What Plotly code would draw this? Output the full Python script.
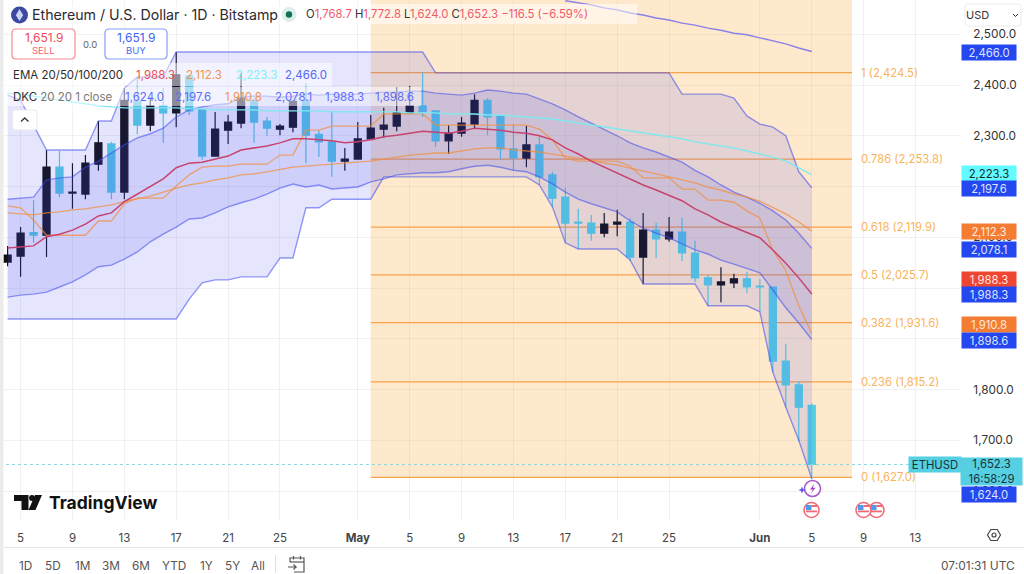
import pandas as pd
import plotly.graph_objects as go

W, H = 1024, 574
PLOT_R, PLOT_B = 960, 521

# Daily ETH/USD candles
first_day = "2025-04-04"
opens = [2051,2063,2109,2104,2238,2187,2185,2244,2284,2189,
         2368,2321,2359,2345,2418,2351,2260,2311,2325,2370,
         2329,2313,2317,2370,2303,2288,2250,2254,2294,2313,
         2319,2345,2359,2349,2290,2305,2323,2370,2339,2274,
         2256,2282,2223,2179,2130,2128,2108,2126,2130,2061,
         2114,2097,2110,2069,2020,2006,2010,2018,2004,2002,
         1856,1809,1768.7]
highs = [2083,2120,2173,2272,2270,2246,2262,2329,2288,2394,
         2416,2376,2394,2465,2420,2351,2347,2341,2424,2370,
         2337,2323,2370,2404,2311,2347,2276,2327,2341,2355,
         2396,2398,2424,2349,2321,2337,2382,2374,2339,2323,
         2319,2298,2229,2197,2156,2144,2148,2154,2138,2148,
         2128,2140,2138,2093,2026,2041,2028,2032,2018,2002,
         1890,1817,1772.8]
lows = [2043,2022,2089,2061,2179,2156,2175,2231,2175,2175,
        2303,2309,2286,2317,2341,2252,2260,2284,2315,2286,
        2300,2301,2307,2246,2258,2219,2231,2254,2294,2296,
        2309,2345,2337,2278,2264,2298,2313,2301,2254,2231,
        2238,2203,2160,2089,2077,2093,2100,2102,2053,2008,
        2059,2091,2053,2012,1965,1972,2000,1990,1953,1834,
        1765,1697,1624.0]
closes = [2065,2108,2104,2238,2187,2189,2246,2286,2189,2370,
          2321,2359,2345,2420,2349,2260,2313,2327,2374,2327,
          2315,2319,2368,2301,2288,2250,2254,2294,2315,2321,
          2345,2359,2347,2290,2305,2325,2370,2337,2274,2256,
          2282,2219,2177,2128,2128,2108,2126,2130,2061,2114,
          2097,2110,2069,2020,2006,2012,2018,2002,2002,1856,
          1809,1765,1652.3]

# Moving averages
ema20 = [2079,2081,2083,2101,2106,2114,2126,2142,2148,2170,
         2185,2201,2215,2237,2246,2248,2254,2260,2272,2276,
         2280,2286,2294,2294,2292,2290,2286,2288,2292,2298,
         2301,2305,2309,2307,2305,2309,2315,2313,2311,2307,
         2305,2300,2292,2276,2264,2250,2238,2227,2215,2203,
         2193,2183,2172,2156,2144,2130,2120,2110,2099,2075,
         2049,2020,1988.3]
ema50 = [2148,2146,2144,2148,2150,2154,2156,2160,2164,2170,
         2175,2181,2189,2197,2203,2207,2213,2217,2223,2225,
         2229,2233,2238,2240,2242,2244,2246,2248,2250,2254,
         2258,2262,2264,2266,2266,2270,2274,2276,2276,2272,
         2270,2268,2264,2260,2256,2252,2246,2242,2236,2231,
         2225,2219,2213,2207,2199,2193,2185,2179,2171,2158,
         2146,2130,2112.3]
ema100 = [2384,2382,2378,2374,2370,2366,2363,2359,2357,2355,
          2355,2355,2355,2355,2353,2353,2351,2351,2351,2351,
          2349,2349,2349,2349,2349,2347,2347,2347,2347,2347,
          2347,2345,2345,2345,2343,2343,2343,2341,2341,2339,
          2337,2335,2333,2329,2325,2321,2317,2313,2309,2305,
          2301,2298,2294,2288,2284,2280,2276,2270,2264,2258,
          2250,2236,2223.3]
# Only the closing stretch of the 200-day average lies inside the price range
ema200_days = 20
ema200 = [2566,2562,2558,2552,2548,2542,2538,2532,2528,2522,
          2518,2512,2508,2502,2499,2493,2487,2481,2473,2466.0][-ema200_days:]

# Donchian channel
don_upper = [2380,2370,2321,2272,2272,2272,2272,2329,2329,2394,
             2416,2416,2416,2465,2465,2465,2465,2465,2465,2465,
             2465,2465,2465,2465,2465,2465,2465,2465,2465,2465,
             2465,2465,2465,2424,2424,2424,2424,2424,2424,2424,
             2424,2424,2424,2424,2424,2424,2424,2424,2424,2424,
             2424,2424,2382,2382,2382,2382,2374,2339,2323,2317,
             2300,2229,2197.6]
don_lower = [1939,1939,1939,1939,1939,1939,1939,1939,1939,1939,
             1939,1939,1939,1939,1978,2010,2016,2016,2022,2022,
             2022,2059,2059,2158,2158,2175,2175,2175,2175,2219,
             2219,2219,2219,2219,2219,2219,2219,2219,2219,2219,
             2219,2203,2160,2089,2077,2077,2077,2077,2055,2008,
             2008,2008,2008,2008,1965,1965,1965,1965,1953,1834,
             1765,1700,1624.0]
don_basis = [2162,2158,2134,2104,2104,2104,2104,2132,2132,2166,
             2177,2177,2177,2201,2223,2238,2240,2240,2244,2244,
             2244,2262,2262,2311,2311,2319,2319,2319,2319,2343,
             2343,2343,2343,2321,2321,2321,2321,2321,2321,2321,
             2321,2313,2292,2256,2250,2250,2250,2250,2240,2217,
             2217,2217,2195,2195,2173,2173,2169,2152,2138,2075,
             2034,1965,1910.8]

# Keltner channel
kel_upper = [2175,2177,2179,2213,2217,2219,2238,2250,2266,2282,
             2296,2304,2315,2337,2351,2357,2361,2363,2376,2378,
             2378,2376,2378,2382,2380,2382,2380,2382,2384,2386,
             2386,2388,2388,2384,2382,2380,2384,2390,2388,2384,
             2382,2372,2363,2351,2337,2325,2313,2300,2286,2276,
             2268,2258,2248,2232,2219,2203,2189,2179,2167,2152,
             2134,2108,2078.1]
kel_lower = [1982,1986,1988,1992,2002,2012,2026,2042,2045,2057,
             2071,2091,2106,2120,2136,2138,2148,2160,2168,2175,
             2185,2197,2205,2199,2203,2195,2197,2199,2209,2215,
             2223,2225,2227,2227,2229,2235,2240,2242,2238,2232,
             2229,2219,2205,2189,2175,2166,2158,2150,2132,2118,
             2108,2099,2087,2075,2067,2055,2047,2039,2030,1996,
             1961,1931,1898.6]

# Fibonacci retracement levels
fib_ratios = ["1", "0.786", "0.618", "0.5", "0.382", "0.236", "0"]
fib_prices = [2424.5, 2253.8, 2119.9, 2025.7, 1931.6, 1815.2, 1627.0]

price_ticks = [2500, 2400, 2300, 2200, 2100, 2000, 1900, 1800, 1700, 1600]
date_ticks = ["2025-04-05","2025-04-09","2025-04-13","2025-04-17","2025-04-21",
              "2025-04-25","2025-05-01","2025-05-05","2025-05-09","2025-05-13",
              "2025-05-17","2025-05-21","2025-05-25","2025-06-01","2025-06-05",
              "2025-06-09","2025-06-13"]
date_labels = ["5","9","13","17","21","25","<b>May</b>","5","9","13","17","21","25",
               "<b>Jun</b>","5","9","13"]
range_buttons = ["1D","5D","1M","3M","6M","YTD","1Y","5Y","All"]

last_close = 1652.3
last_low = 1624.0
spread_sell = 1651.9
spread_buy = 1651.9

X_RANGE = ["2025-04-03 09:55", "2025-06-16 10:20"]
Y_RANGE = [1540.9, 2567.5]
FIB_X = ["2025-05-02", "2025-06-08 02:30"]

CANDLE_UP = "#101010"
CANDLE_DOWN = "#55cfe1"
ORANGE_TXT = "#f9b35b"
ORANGE_LINE = "#f8a24a"
BLUE_TAG = "#2447f0"
RED_TXT = "#f0596a"
BLUE_TXT = "#5c6df5"
FONT = "Inter"

days = pd.date_range(first_day, periods=len(closes), freq="D")


def px(x):
    return x / W


def py(y):
    return 1 - y / H


def round_rect_path(x0, y0, x1, y1, r):
    a, b, c, d = px(x0), py(y0), px(x1), py(y1)
    rx, ry = r / W, r / H
    return (f"M{a+rx},{b} L{c-rx},{b} Q{c},{b} {c},{b-ry} L{c},{d+ry} Q{c},{d} {c-rx},{d} "
            f"L{a+rx},{d} Q{a},{d} {a},{d+ry} L{a},{b-ry} Q{a},{b} {a+rx},{b} Z")


def poly_path(points):
    parts = [f"{'M' if i == 0 else 'L'}{px(x)},{py(y)}" for i, (x, y) in enumerate(points)]
    return " ".join(parts) + " Z"


def open_path(points):
    return " ".join(f"{'M' if i == 0 else 'L'}{px(x)},{py(y)}" for i, (x, y) in enumerate(points))


fig = go.Figure()

BAND_LINE = "rgba(62,72,238,0.55)"
BAND_FILL = "rgba(70,80,240,0.14)"


def band(upper, lower):
    fig.add_trace(go.Scatter(x=days, y=upper, mode="lines", hoverinfo="skip",
                             line=dict(color=BAND_LINE, width=1.4)))
    fig.add_trace(go.Scatter(x=days, y=lower, mode="lines", hoverinfo="skip", fill="tonexty",
                             fillcolor=BAND_FILL, line=dict(color=BAND_LINE, width=1.4)))


band(don_upper, don_lower)
band(kel_upper, kel_lower)

for values, color, width in [
    (don_basis, "rgba(245,140,55,0.72)", 1.3),
    (ema50, "rgba(245,140,55,0.72)", 1.3),
    (ema100, "#7fe9ee", 1.4),
    (ema20, "#c9426e", 1.5),
]:
    fig.add_trace(go.Scatter(x=days, y=values, mode="lines", hoverinfo="skip",
                             line=dict(color=color, width=width)))
fig.add_trace(go.Scatter(x=days[-len(ema200):], y=ema200, mode="lines", hoverinfo="skip",
                         line=dict(color="#8a80e8", width=1.4)))

fig.add_trace(go.Candlestick(
    x=days, open=opens, high=highs, low=lows, close=closes,
    whiskerwidth=0, hoverinfo="skip",
    increasing=dict(line=dict(color=CANDLE_UP, width=1.2), fillcolor=CANDLE_UP),
    decreasing=dict(line=dict(color=CANDLE_DOWN, width=1.2), fillcolor=CANDLE_DOWN),
))

shapes = []

# Retracement backdrop and levels
shapes.append(dict(type="rect", xref="x", yref="y", x0=FIB_X[0], x1=FIB_X[1],
                   y0=fib_prices[-1], y1=Y_RANGE[1], layer="between", line_width=0,
                   fillcolor="rgba(250,175,70,0.27)"))
for price in fib_prices:
    shapes.append(dict(type="line", xref="x", yref="y", x0=FIB_X[0], x1=FIB_X[1],
                       y0=price, y1=price, layer="between",
                       line=dict(color=ORANGE_LINE, width=1.2)))

# Last-price guide
shapes.append(dict(type="line", xref="paper", yref="y", x0=0, x1=px(909), y0=last_close,
                   y1=last_close, line=dict(color="#86d8e4", width=1, dash="dot")))

# Translucent backings behind header and study rows
for x0, y0, x1, y1 in [(3, 4, 637, 24), (3, 63, 332, 86), (7, 87, 421, 106)]:
    shapes.append(dict(type="rect", xref="paper", yref="paper", x0=px(x0), x1=px(x1),
                       y0=py(y0), y1=py(y1), line_width=0, fillcolor="rgba(255,255,255,0.5)"))

# Left edge strip and toolbar separators
shapes.append(dict(type="rect", xref="paper", yref="paper", x0=0, x1=px(3.5), y0=0, y1=1,
                   line_width=0, fillcolor="#ececec"))
shapes.append(dict(type="line", xref="paper", yref="paper", x0=px(3.5), x1=1, y0=py(547.5),
                   y1=py(547.5), line=dict(color="#e6e6e6", width=1)))
shapes.append(dict(type="line", xref="paper", yref="paper", x0=px(275.5), x1=px(275.5),
                   y0=py(555), y1=py(573), line=dict(color="#e0e0e0", width=1)))

# Order buttons, collapse button, currency selector
shapes.append(dict(type="path", xref="paper", yref="paper", path=round_rect_path(12, 29, 75, 59, 4),
                   fillcolor="white", line=dict(color="#f58a92", width=1.2)))
shapes.append(dict(type="path", xref="paper", yref="paper", path=round_rect_path(105, 29, 167, 59, 4),
                   fillcolor="white", line=dict(color="#86a0f6", width=1.2)))
shapes.append(dict(type="path", xref="paper", yref="paper", path=round_rect_path(12.5, 110, 37, 130, 3),
                   fillcolor="white", line=dict(color="#e8e8e8", width=1)))
shapes.append(dict(type="path", xref="paper", yref="paper",
                   path=open_path([(21, 121.5), (24.7, 118), (28.5, 121.5)]),
                   line=dict(color="#333", width=1.3)))
shapes.append(dict(type="rect", xref="paper", yref="paper", x0=px(962), x1=1, y0=1, y1=py(29),
                   fillcolor="white", line_width=0))
shapes.append(dict(type="path", xref="paper", yref="paper", path=round_rect_path(965, 4, 1021, 26, 3),
                   fillcolor="white", line=dict(color="#ececec", width=1)))
shapes.append(dict(type="path", xref="paper", yref="paper",
                   path=open_path([(1013, 14), (1015.5, 16.5), (1018, 14)]),
                   line=dict(color="#333", width=1)))


def circle(cx, cy, r, fill, line=None, width=1.5):
    return dict(type="circle", xref="paper", yref="paper", x0=px(cx - r), x1=px(cx + r),
                y0=py(cy - r), y1=py(cy + r), fillcolor=fill,
                line=dict(color=line, width=width) if line else dict(width=0))


# Coin badge and market status dot
shapes.append(circle(19.5, 15, 8.5, "#3b4a9e"))
shapes.append(dict(type="path", xref="paper", yref="paper", fillcolor="#c9d3f2", line_width=0,
                   path=poly_path([(19.5, 9), (23.2, 15.2), (19.5, 21), (15.8, 15.2)])))
shapes.append(circle(289, 14.5, 7.5, "#dcefe8"))
shapes.append(circle(289, 14.5, 3.2, "#10715a"))

# Logo marks
shapes.append(dict(type="path", xref="paper", yref="paper", fillcolor="#111", line_width=0,
                   path=poly_path([(14, 495), (28.5, 495), (28.5, 510), (21.5, 510), (21.5, 501), (14, 501)])))
shapes.append(circle(32, 498, 2.9, "#111"))
shapes.append(dict(type="path", xref="paper", yref="paper", fillcolor="#111", line_width=0,
                   path=poly_path([(35, 495), (42, 495), (35.5, 510), (28.5, 510)])))

# Event markers along the foot of the price pane
shapes.append(circle(812.5, 488.5, 8, "white", "#a95cc9", 1.6))
shapes.append(dict(type="path", xref="paper", yref="paper", fillcolor="#a33fc0", line_width=0,
                   path=poly_path([(814.5, 483.5), (810, 489.5), (812.8, 489.5), (810.5, 494),
                                   (815.5, 487.7), (812.7, 487.7)])))
shapes.append(dict(type="path", xref="paper", yref="paper", fillcolor="#5b50f0", line_width=0,
                   path=poly_path([(802, 486.5), (803, 489), (805.5, 490), (803, 491),
                                   (802, 493.5), (801, 491), (798.5, 490), (801, 489)])))
for cx in [876.5, 863.5, 811.5]:
    shapes.append(circle(cx, 510, 7.5, "white", "#ef6a76", 1.6))
    shapes.append(dict(type="rect", xref="paper", yref="paper", x0=px(cx - 5.5), x1=px(cx),
                       y0=py(505), y1=py(510), fillcolor="#4f9bea", line_width=0))
    shapes.append(dict(type="rect", xref="paper", yref="paper", x0=px(cx), x1=px(cx + 5.5),
                       y0=py(505), y1=py(507), fillcolor="#ef6a76", line_width=0))
    shapes.append(dict(type="rect", xref="paper", yref="paper", x0=px(cx - 5.5), x1=px(cx + 5.5),
                       y0=py(510.5), y1=py(512.3), fillcolor="#ef6a76", line_width=0))

# Settings hexagon
shapes.append(dict(type="path", xref="paper", yref="paper", line=dict(color="#444", width=1.2),
                   path=poly_path([(987.5, 535), (990.8, 529.5), (997.2, 529.5), (1000.5, 535),
                                   (997.2, 540.5), (990.8, 540.5)])))
shapes.append(circle(994, 535, 2, "white", "#444", 1.2))

# Calendar icon
shapes.append(dict(type="path", xref="paper", yref="paper", line=dict(color="#555", width=1.2),
                   path=open_path([(290, 562), (290, 558), (304, 558), (304, 572), (294, 572)])))
shapes.append(dict(type="path", xref="paper", yref="paper", line=dict(color="#555", width=1.2),
                   path=open_path([(290, 562), (304, 562)])))
shapes.append(dict(type="path", xref="paper", yref="paper", line=dict(color="#555", width=1.2),
                   path=open_path([(288, 567), (296, 567), (293.5, 564.5), (296, 567), (293.5, 569.5)])))
for x in [293.5, 300.5]:
    shapes.append(dict(type="line", xref="paper", yref="paper", x0=px(x), x1=px(x),
                       y0=py(556), y1=py(559.5), line=dict(color="#555", width=1.2)))

annotations = []


def label(x, y, text, size=12, color="#333", anchor="left", **extra):
    annotations.append(dict(xref="paper", yref="paper", x=px(x), y=py(y), text=text,
                            showarrow=False, xanchor=anchor, yanchor="middle", borderpad=0,
                            font=dict(family=FONT, size=size, color=color), **extra))


# Header
label(31, 14.5, "Ethereum / U.S. Dollar · 1D · Bitstamp", size=14.2, color="#2a2a2e")
ohlc = (f"O<span style='color:{RED_TXT}'>{opens[-1]:,.1f}</span> "
        f"H<span style='color:{RED_TXT}'>{highs[-1]:,.1f}</span> "
        f"L<span style='color:{RED_TXT}'>{lows[-1]:,.1f}</span> "
        f"C<span style='color:{RED_TXT}'>{closes[-1]:,.1f}</span> "
        f"<span style='color:{RED_TXT}'>−116.5 (−6.59%)</span>")
label(305, 14.5, ohlc, size=11.3, color="#333")

label(43.5, 37.5, f"{spread_sell:,.1f}", size=12, color="#ec4a5a", anchor="center")
label(43.5, 50.5, "SELL", size=9.5, color="#f0606e", anchor="center")
label(136, 37.5, f"{spread_buy:,.1f}", size=12, color="#3d62ee", anchor="center")
label(136, 50.5, "BUY", size=9.5, color="#4a6cf0", anchor="center")
label(89.5, 44.5, "0.0", size=9.5, color="#666", anchor="center")

# Study rows
label(12, 74.5, "EMA 20/50/100/200", size=11.5, color="#2e2e2e")
for x, value, color in [(135, ema20[-1], "#ef4d56"), (184.5, ema50[-1], "#f0934e"),
                        (234.5, ema100[-1], "#7cf0f5"), (284, ema200[-1], "#5666f0")]:
    label(x, 74.5, f"{value:,.1f}", size=11.5, color=color)
label(12, 96.5, "DKC <span style='color:#777'>20 20 1 close</span>", size=11.5, color="#2e2e2e")
for x, value, color in [(124, don_lower[-1], BLUE_TXT), (174, don_upper[-1], BLUE_TXT),
                        (224, don_basis[-1], "#f0934e"), (274, kel_upper[-1], BLUE_TXT),
                        (324, ema20[-1], BLUE_TXT), (374, kel_lower[-1], BLUE_TXT)]:
    label(x, 96.5, f"{value:,.1f}", size=11.5, color=color)

# Retracement labels
for ratio, price in zip(fib_ratios, fib_prices):
    annotations.append(dict(xref="paper", yref="y", x=px(858.5), y=price,
                            text=f"{ratio} ({price:,.1f})", showarrow=False, xanchor="left",
                            yanchor="middle", font=dict(family=FONT, size=11.3, color=ORANGE_TXT)))

# Price scale tags: value, fill, text colour, vertical nudge
price_tags = [
    (ema200[-1], BLUE_TAG, "#dfe5ff", -1),
    (ema100[-1], "#62fbff", "#1c2a2c", 1),
    (don_upper[-1], BLUE_TAG, "#dfe5ff", -1),
    (ema50[-1], "#f47c33", "#ffeadb", 0),
    (kel_upper[-1], BLUE_TAG, "#dfe5ff", -1),
    (ema20[-1], "#ef4632", "#ffe5e0", 14.4),
    (ema20[-1], BLUE_TAG, "#dfe5ff", -1),
    (don_basis[-1], "#f47c33", "#ffeadb", 8.3),
    (kel_lower[-1], BLUE_TAG, "#dfe5ff", -1),
    (last_low, BLUE_TAG, "#dfe5ff", -16),
]
for value, fill, fg, nudge in price_tags:
    annotations.append(dict(xref="paper", yref="y", x=px(989), y=value, yshift=nudge,
                            text=f"{value:,.1f}", showarrow=False, xanchor="center",
                            yanchor="middle", width=54, height=15, bgcolor=fill, borderpad=0,
                            font=dict(family=FONT, size=11.3, color=fg)))
annotations.append(dict(xref="paper", yref="y", x=px(991.5), y=last_close, yshift=-7,
                        text=f"{last_close:,.1f}<br>16:58:29", showarrow=False, xanchor="center",
                        yanchor="middle", width=61, height=27, bgcolor=CANDLE_DOWN, borderpad=0,
                        font=dict(family=FONT, size=11.3, color="#17343a")))
annotations.append(dict(xref="paper", yref="y", x=px(935), y=last_close, yshift=0,
                        text="ETHUSD", showarrow=False, xanchor="center", yanchor="middle",
                        width=52, height=15, bgcolor=CANDLE_DOWN, borderpad=0,
                        font=dict(family=FONT, size=11.3, color="#17343a")))

label(977, 15, "USD", size=11, color="#333", anchor="center")
label(48, 502.5, "<b>TradingView</b>", size=17.5, color="#131313")

# Bottom toolbar
for x, text in zip([25, 53, 82, 111, 141, 174, 206, 232, 258], range_buttons):
    label(x, 566, text, size=11.8, color="#555", anchor="center")
label(1016, 565.5, "07:01:31 UTC", size=12, color="#555", anchor="right")

fig.update_layout(
    width=W, height=H, margin=dict(l=0, r=0, t=0, b=0),
    paper_bgcolor="white", plot_bgcolor="white", showlegend=False,
    boxgap=0.22, hovermode=False,
    shapes=shapes, annotations=annotations,
    font=dict(family=FONT),
    xaxis=dict(
        domain=[0, PLOT_R / W], range=X_RANGE, type="date", rangeslider=dict(visible=False),
        tickvals=date_ticks, ticktext=date_labels, showgrid=True, gridcolor="rgba(120,120,135,0.1)",
        gridwidth=1, zeroline=False, showline=False, ticks="outside", ticklen=6,
        tickcolor="rgba(0,0,0,0)", tickfont=dict(family=FONT, size=11.5, color="#444"),
    ),
    yaxis=dict(
        domain=[1 - PLOT_B / H, 1], range=Y_RANGE, side="right",
        tickvals=price_ticks, ticktext=[f"{v:,.1f}" for v in price_ticks], showgrid=True,
        gridcolor="rgba(120,120,135,0.1)", gridwidth=1, zeroline=False, showline=False,
        ticks="outside", ticklen=10, tickcolor="rgba(0,0,0,0)",
        tickfont=dict(family=FONT, size=11.8, color="#333"),
    ),
)

fig.write_html("out.html", config=dict(displayModeBar=False))
